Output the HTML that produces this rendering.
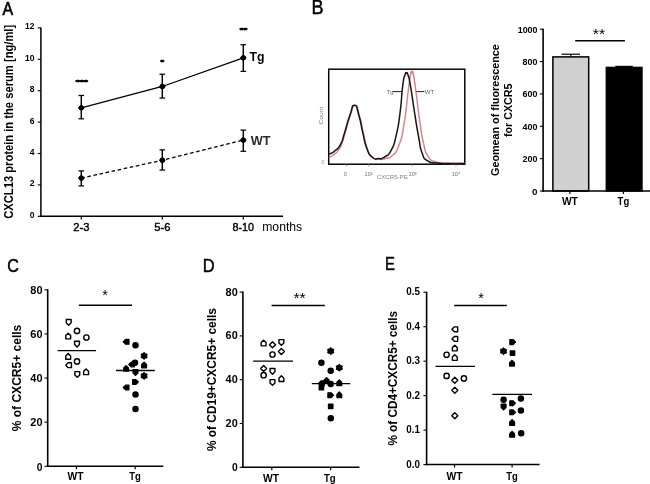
<!DOCTYPE html>
<html><head><meta charset="utf-8"><title>Figure</title>
<style>
html,body{margin:0;padding:0;background:#fff;}
body{width:650px;height:484px;overflow:hidden;}
svg{display:block;font-family:"Liberation Sans",sans-serif;}
</style></head><body>
<svg width="650" height="484" viewBox="0 0 650 484">
<defs><filter id="bl" x="0" y="0" width="650" height="484" filterUnits="userSpaceOnUse"><feGaussianBlur stdDeviation="0.4"/></filter></defs>
<rect width="650" height="484" fill="#fff"/>
<g filter="url(#bl)">
<text transform="translate(2.52 14.70) scale(0.885 1)" font-size="17.97" font-weight="normal" fill="#000" stroke="#000" stroke-width="0.6">A</text>
<text transform="translate(311.55 13.80) scale(0.913 1)" font-size="19.86" font-weight="normal" fill="#000" stroke="#000" stroke-width="0.5">B</text>
<text transform="translate(7.29 271.61) scale(0.845 1)" font-size="19.15" font-weight="normal" fill="#000" stroke="#000" stroke-width="0.5">C</text>
<text transform="translate(202.78 271.50) scale(0.861 1)" font-size="19.13" font-weight="normal" fill="#000" stroke="#000" stroke-width="0.5">D</text>
<text transform="translate(384.91 270.10) scale(0.777 1)" font-size="19.13" font-weight="normal" fill="#000" stroke="#000" stroke-width="0.5">E</text>
<line x1="40.90" y1="27.40" x2="40.90" y2="217.00" stroke="#000" stroke-width="1.5" />
<line x1="40.20" y1="216.30" x2="283.00" y2="216.30" stroke="#000" stroke-width="1.45" />
<line x1="37.70" y1="216.30" x2="40.90" y2="216.30" stroke="#000" stroke-width="1.1" />
<text x="34.40" y="217.70" font-size="8.5" text-anchor="end" font-weight="bold" fill="#000" >0</text>
<line x1="37.70" y1="184.90" x2="40.90" y2="184.90" stroke="#000" stroke-width="1.1" />
<text x="34.40" y="186.30" font-size="8.5" text-anchor="end" font-weight="bold" fill="#000" >2</text>
<line x1="37.70" y1="153.50" x2="40.90" y2="153.50" stroke="#000" stroke-width="1.1" />
<text x="34.40" y="154.90" font-size="8.5" text-anchor="end" font-weight="bold" fill="#000" >4</text>
<line x1="37.70" y1="122.10" x2="40.90" y2="122.10" stroke="#000" stroke-width="1.1" />
<text x="34.40" y="123.50" font-size="8.5" text-anchor="end" font-weight="bold" fill="#000" >6</text>
<line x1="37.70" y1="90.70" x2="40.90" y2="90.70" stroke="#000" stroke-width="1.1" />
<text x="34.40" y="92.10" font-size="8.5" text-anchor="end" font-weight="bold" fill="#000" >8</text>
<line x1="37.70" y1="59.30" x2="40.90" y2="59.30" stroke="#000" stroke-width="1.1" />
<text x="34.40" y="60.70" font-size="8.5" text-anchor="end" font-weight="bold" fill="#000" >10</text>
<line x1="37.70" y1="27.90" x2="40.90" y2="27.90" stroke="#000" stroke-width="1.1" />
<text x="34.40" y="29.30" font-size="8.5" text-anchor="end" font-weight="bold" fill="#000" >12</text>
<line x1="81.30" y1="216.30" x2="81.30" y2="219.50" stroke="#000" stroke-width="1.2" />
<text x="81.30" y="231.30" font-size="11.4" text-anchor="middle" font-weight="normal" fill="#000" textLength="16.2" lengthAdjust="spacingAndGlyphs" stroke="#000" stroke-width="0.4">2-3</text>
<line x1="162.30" y1="216.30" x2="162.30" y2="219.50" stroke="#000" stroke-width="1.2" />
<text x="162.30" y="231.30" font-size="11.4" text-anchor="middle" font-weight="normal" fill="#000" textLength="16.2" lengthAdjust="spacingAndGlyphs" stroke="#000" stroke-width="0.4">5-6</text>
<line x1="243.30" y1="216.30" x2="243.30" y2="219.50" stroke="#000" stroke-width="1.2" />
<text x="243.30" y="231.30" font-size="11.4" text-anchor="middle" font-weight="normal" fill="#000" textLength="21.6" lengthAdjust="spacingAndGlyphs" stroke="#000" stroke-width="0.4">8-10</text>
<text x="262.20" y="231.30" font-size="12.4" text-anchor="start" font-weight="normal" fill="#000" textLength="40.0" lengthAdjust="spacingAndGlyphs" >months</text>
<text x="12.90" y="121.80" font-size="12.3" text-anchor="middle" font-weight="bold" fill="#000" transform="rotate(-90 12.90 121.80)" textLength="194.0" lengthAdjust="spacingAndGlyphs" >CXCL13 protein in the serum [ng/ml]</text>
<polyline points="81.3,107.8 162.3,86.5 243.3,57.8" fill="none" stroke="#000" stroke-width="1.3"/>
<polyline points="81.3,178.1 162.3,160.2 243.3,140.1" fill="none" stroke="#000" stroke-width="1.3" stroke-dasharray="3.6 2.6"/>
<line x1="81.30" y1="95.50" x2="81.30" y2="118.80" stroke="#000" stroke-width="1.45" />
<line x1="78.50" y1="95.50" x2="84.10" y2="95.50" stroke="#000" stroke-width="1.25" />
<line x1="78.50" y1="118.80" x2="84.10" y2="118.80" stroke="#000" stroke-width="1.25" />
<polygon points="81.30,104.80 84.30,107.80 81.30,110.80 78.30,107.80" fill="#000" stroke="#000" stroke-width="0.6" stroke-linejoin="round"/>
<circle cx="81.3" cy="107.8" r="2.65" fill="#000"/>
<line x1="162.30" y1="74.20" x2="162.30" y2="98.00" stroke="#000" stroke-width="1.45" />
<line x1="159.50" y1="74.20" x2="165.10" y2="74.20" stroke="#000" stroke-width="1.25" />
<line x1="159.50" y1="98.00" x2="165.10" y2="98.00" stroke="#000" stroke-width="1.25" />
<polygon points="162.30,83.50 165.30,86.50 162.30,89.50 159.30,86.50" fill="#000" stroke="#000" stroke-width="0.6" stroke-linejoin="round"/>
<circle cx="162.3" cy="86.5" r="2.65" fill="#000"/>
<line x1="243.30" y1="44.70" x2="243.30" y2="71.40" stroke="#000" stroke-width="1.45" />
<line x1="240.50" y1="44.70" x2="246.10" y2="44.70" stroke="#000" stroke-width="1.25" />
<line x1="240.50" y1="71.40" x2="246.10" y2="71.40" stroke="#000" stroke-width="1.25" />
<polygon points="243.30,54.80 246.30,57.80 243.30,60.80 240.30,57.80" fill="#000" stroke="#000" stroke-width="0.6" stroke-linejoin="round"/>
<circle cx="243.3" cy="57.8" r="2.65" fill="#000"/>
<line x1="81.30" y1="170.90" x2="81.30" y2="185.90" stroke="#000" stroke-width="1.45" />
<line x1="78.50" y1="170.90" x2="84.10" y2="170.90" stroke="#000" stroke-width="1.25" />
<line x1="78.50" y1="185.90" x2="84.10" y2="185.90" stroke="#000" stroke-width="1.25" />
<polygon points="81.30,175.10 84.30,178.10 81.30,181.10 78.30,178.10" fill="#000" stroke="#000" stroke-width="0.6" stroke-linejoin="round"/>
<circle cx="81.3" cy="178.1" r="2.65" fill="#000"/>
<line x1="162.30" y1="149.90" x2="162.30" y2="170.00" stroke="#000" stroke-width="1.45" />
<line x1="159.50" y1="149.90" x2="165.10" y2="149.90" stroke="#000" stroke-width="1.25" />
<line x1="159.50" y1="170.00" x2="165.10" y2="170.00" stroke="#000" stroke-width="1.25" />
<polygon points="162.30,157.20 165.30,160.20 162.30,163.20 159.30,160.20" fill="#000" stroke="#000" stroke-width="0.6" stroke-linejoin="round"/>
<circle cx="162.3" cy="160.2" r="2.65" fill="#000"/>
<line x1="243.30" y1="130.10" x2="243.30" y2="151.30" stroke="#000" stroke-width="1.45" />
<line x1="240.50" y1="130.10" x2="246.10" y2="130.10" stroke="#000" stroke-width="1.25" />
<line x1="240.50" y1="151.30" x2="246.10" y2="151.30" stroke="#000" stroke-width="1.25" />
<polygon points="243.30,137.10 246.30,140.10 243.30,143.10 240.30,140.10" fill="#000" stroke="#000" stroke-width="0.6" stroke-linejoin="round"/>
<circle cx="243.3" cy="140.1" r="2.65" fill="#000"/>
<text x="249.40" y="61.30" font-size="12.4" text-anchor="start" font-weight="bold" fill="#000" textLength="15.0" lengthAdjust="spacingAndGlyphs" >Tg</text>
<text x="250.80" y="145.20" font-size="12.4" text-anchor="start" font-weight="bold" fill="#2e2a2e" textLength="19.8" lengthAdjust="spacingAndGlyphs" >WT</text>
<text x="81.80" y="84.10" font-size="6" text-anchor="middle" font-weight="bold" fill="#000" textLength="12.2" lengthAdjust="spacingAndGlyphs" stroke="#000" stroke-width="0.6">***</text>
<text x="162.30" y="64.00" font-size="6" text-anchor="middle" font-weight="bold" fill="#000" textLength="3.6" lengthAdjust="spacingAndGlyphs" stroke="#000" stroke-width="0.6">*</text>
<text x="243.50" y="32.00" font-size="6" text-anchor="middle" font-weight="bold" fill="#000" textLength="7.4" lengthAdjust="spacingAndGlyphs" stroke="#000" stroke-width="0.6">**</text>
<rect x="328.7" y="69.2" width="136.1" height="95.0" fill="#fff" stroke="#000" stroke-width="1.45"/>
<path d="M329.60,157.20 C331.07,156.30 331.13,156.80 334.00,154.50 C336.87,152.20 335.53,154.13 338.20,150.30 C340.87,146.47 339.57,149.27 342.00,143.00 C344.43,136.73 342.73,140.67 345.50,131.50 C348.27,122.33 347.13,124.20 350.30,115.50 C353.47,106.80 351.97,105.40 355.00,105.40 C358.03,105.40 356.67,106.53 359.40,115.50 C362.13,124.47 360.63,121.57 363.20,132.30 C365.77,143.03 364.07,139.40 367.10,147.70 C370.13,156.00 368.17,153.33 372.30,157.20 C376.43,161.07 374.93,158.93 379.50,159.30 C384.07,159.67 381.70,159.57 386.00,158.30 C390.30,157.03 388.10,159.87 392.40,155.50 C396.70,151.13 395.03,155.53 398.90,145.20 C402.77,134.87 401.00,141.73 404.00,124.50 C407.00,107.27 405.73,110.00 407.90,93.50 C410.07,77.00 409.13,81.87 410.50,75.00 C411.87,68.13 411.00,72.90 412.00,72.90 C413.00,72.90 412.10,68.13 413.50,75.00 C414.90,81.87 414.20,78.70 416.20,93.50 C418.20,108.30 417.10,103.03 419.50,119.40 C421.90,135.77 420.40,130.13 423.40,142.60 C426.40,155.07 424.20,150.37 428.50,156.80 C432.80,163.23 429.80,159.73 436.30,161.90 C442.80,164.07 438.60,162.80 448.00,163.30 C457.40,163.80 459.00,163.37 464.50,163.40" fill="none" stroke="#dc7f86" stroke-width="1.45" stroke-linejoin="round" stroke-linecap="round"/>
<path d="M329.50,153.80 C330.00,153.63 328.97,154.47 331.00,153.30 C333.03,152.13 332.33,153.43 335.60,150.30 C338.87,147.17 337.77,149.90 340.80,143.90 C343.83,137.90 341.70,141.77 344.70,132.30 C347.70,122.83 346.53,124.53 349.80,115.50 C353.07,106.47 351.47,105.20 354.50,105.20 C357.53,105.20 356.17,106.47 358.90,115.50 C361.63,124.53 360.13,121.57 362.70,132.30 C365.27,143.03 363.57,139.53 366.60,147.70 C369.63,155.87 367.93,153.17 371.80,156.80 C375.67,160.43 373.90,158.60 378.20,158.60 C382.50,158.60 380.40,159.57 384.70,156.80 C389.00,154.03 387.23,157.63 391.10,150.30 C394.97,142.97 393.27,147.70 396.30,134.80 C399.33,121.90 398.07,127.93 400.20,111.60 C402.33,95.27 401.10,98.00 402.70,85.80 C404.30,73.60 403.73,79.13 405.00,75.00 C406.27,70.87 405.50,73.40 406.50,73.40 C407.50,73.40 406.67,70.87 408.00,75.00 C409.33,79.13 408.37,73.60 410.50,85.80 C412.63,98.00 411.67,94.40 414.40,111.60 C417.13,128.80 416.13,123.63 418.70,137.40 C421.27,151.17 419.23,145.17 422.10,152.90 C424.97,160.63 422.57,157.23 427.30,160.60 C432.03,163.97 428.73,162.07 436.30,163.00 C443.87,163.93 440.60,163.27 450.00,163.40 C459.40,163.53 459.67,163.40 464.50,163.40" fill="none" stroke="#151515" stroke-width="1.5" stroke-linejoin="round" stroke-linecap="round"/>
<text x="386.70" y="93.70" font-size="5.8" text-anchor="start" font-weight="normal" fill="#666" >Tg</text>
<line x1="392.80" y1="91.60" x2="402.50" y2="91.60" stroke="#222" stroke-width="1.0" />
<line x1="416.30" y1="91.60" x2="424.30" y2="91.60" stroke="#222" stroke-width="1.0" />
<text x="424.80" y="93.70" font-size="5.8" text-anchor="start" font-weight="normal" fill="#666" textLength="9.4" lengthAdjust="spacingAndGlyphs" >WT</text>
<text x="322.70" y="115.50" font-size="6" text-anchor="middle" font-weight="normal" fill="#808080" transform="rotate(-90 322.70 115.50)" textLength="18.0" lengthAdjust="spacingAndGlyphs" >Count</text>
<text x="392.30" y="179.30" font-size="6" text-anchor="middle" font-weight="normal" fill="#858585" textLength="31.0" lengthAdjust="spacingAndGlyphs" >CXCR5-PE</text>
<text x="345.20" y="176.20" font-size="5.6" text-anchor="middle" font-weight="normal" fill="#707070" >0</text>
<line x1="346.50" y1="164.20" x2="346.50" y2="166.40" stroke="#777" stroke-width="0.8" />
<text x="368.60" y="176.20" font-size="5.6" text-anchor="middle" font-weight="normal" fill="#707070" >10²</text>
<line x1="368.60" y1="164.20" x2="368.60" y2="166.40" stroke="#777" stroke-width="0.8" />
<text x="412.60" y="176.20" font-size="5.6" text-anchor="middle" font-weight="normal" fill="#707070" >10³</text>
<line x1="412.60" y1="164.20" x2="412.60" y2="166.40" stroke="#777" stroke-width="0.8" />
<text x="456.00" y="176.20" font-size="5.6" text-anchor="middle" font-weight="normal" fill="#707070" >10⁴</text>
<line x1="456.00" y1="164.20" x2="456.00" y2="166.40" stroke="#777" stroke-width="0.8" />
<text x="322.70" y="164.30" font-size="4.5" text-anchor="middle" font-weight="normal" fill="#808080" >0</text>
<rect x="552.9" y="56.9" width="35.8" height="134.1" fill="#d0d0d0" stroke="#000" stroke-width="1.5"/>
<rect x="606.3" y="67.4" width="35.7" height="123.6" fill="#000" stroke="#000" stroke-width="1.4"/>
<line x1="570.80" y1="56.90" x2="570.80" y2="54.20" stroke="#000" stroke-width="1.2" />
<line x1="561.60" y1="54.20" x2="580.00" y2="54.20" stroke="#000" stroke-width="1.2" />
<line x1="615.30" y1="66.40" x2="632.80" y2="66.40" stroke="#000" stroke-width="1.2" />
<line x1="543.10" y1="28.70" x2="543.10" y2="191.70" stroke="#000" stroke-width="1.6" />
<line x1="542.30" y1="191.00" x2="650.00" y2="191.00" stroke="#000" stroke-width="1.5" />
<line x1="539.90" y1="191.00" x2="543.10" y2="191.00" stroke="#000" stroke-width="1.1" />
<text x="537.50" y="194.50" font-size="9.8" text-anchor="end" font-weight="bold" fill="#000" >0</text>
<line x1="539.90" y1="158.64" x2="543.10" y2="158.64" stroke="#000" stroke-width="1.1" />
<text x="537.50" y="162.14" font-size="9.8" text-anchor="end" font-weight="bold" fill="#000" textLength="14.9" lengthAdjust="spacingAndGlyphs" >200</text>
<line x1="539.90" y1="126.28" x2="543.10" y2="126.28" stroke="#000" stroke-width="1.1" />
<text x="537.50" y="129.78" font-size="9.8" text-anchor="end" font-weight="bold" fill="#000" textLength="14.9" lengthAdjust="spacingAndGlyphs" >400</text>
<line x1="539.90" y1="93.92" x2="543.10" y2="93.92" stroke="#000" stroke-width="1.1" />
<text x="537.50" y="97.42" font-size="9.8" text-anchor="end" font-weight="bold" fill="#000" textLength="14.9" lengthAdjust="spacingAndGlyphs" >600</text>
<line x1="539.90" y1="61.56" x2="543.10" y2="61.56" stroke="#000" stroke-width="1.1" />
<text x="537.50" y="65.06" font-size="9.8" text-anchor="end" font-weight="bold" fill="#000" textLength="14.9" lengthAdjust="spacingAndGlyphs" >800</text>
<line x1="539.90" y1="29.20" x2="543.10" y2="29.20" stroke="#000" stroke-width="1.1" />
<text x="537.50" y="32.70" font-size="9.8" text-anchor="end" font-weight="bold" fill="#000" textLength="19.8" lengthAdjust="spacingAndGlyphs" >1000</text>
<line x1="569.90" y1="191.00" x2="569.90" y2="194.00" stroke="#000" stroke-width="1.2" />
<text x="569.90" y="205.10" font-size="11" text-anchor="middle" font-weight="bold" fill="#000" textLength="16.0" lengthAdjust="spacingAndGlyphs" >WT</text>
<line x1="623.40" y1="191.00" x2="623.40" y2="194.00" stroke="#000" stroke-width="1.2" />
<text x="623.40" y="205.10" font-size="11" text-anchor="middle" font-weight="bold" fill="#000" textLength="11.6" lengthAdjust="spacingAndGlyphs" >Tg</text>
<line x1="575.20" y1="40.80" x2="624.90" y2="40.80" stroke="#000" stroke-width="1.5" />
<text x="599.00" y="38.60" font-size="14.5" text-anchor="middle" font-weight="normal" fill="#000" textLength="12.4" lengthAdjust="spacingAndGlyphs" >**</text>
<text x="498.90" y="110.10" font-size="10.8" text-anchor="middle" font-weight="bold" fill="#000" transform="rotate(-90 498.90 110.10)" textLength="131.8" lengthAdjust="spacingAndGlyphs" >Geomean of fluorescence</text>
<text x="511.80" y="110.30" font-size="10.8" text-anchor="middle" font-weight="bold" fill="#000" transform="rotate(-90 511.80 110.30)" textLength="53.5" lengthAdjust="spacingAndGlyphs" >for CXCR5</text>
<line x1="47.70" y1="289.30" x2="47.70" y2="467.00" stroke="#000" stroke-width="1.6" />
<line x1="46.90" y1="466.30" x2="163.30" y2="466.30" stroke="#000" stroke-width="1.5" />
<line x1="44.50" y1="466.30" x2="47.70" y2="466.30" stroke="#000" stroke-width="1.1" />
<text x="42.50" y="470.60" font-size="10.3" text-anchor="end" font-weight="bold" fill="#000" >0</text>
<line x1="44.50" y1="422.18" x2="47.70" y2="422.18" stroke="#000" stroke-width="1.1" />
<text x="42.50" y="426.48" font-size="10.3" text-anchor="end" font-weight="bold" fill="#000" textLength="12.2" lengthAdjust="spacingAndGlyphs" >20</text>
<line x1="44.50" y1="378.05" x2="47.70" y2="378.05" stroke="#000" stroke-width="1.1" />
<text x="42.50" y="382.35" font-size="10.3" text-anchor="end" font-weight="bold" fill="#000" textLength="12.2" lengthAdjust="spacingAndGlyphs" >40</text>
<line x1="44.50" y1="333.93" x2="47.70" y2="333.93" stroke="#000" stroke-width="1.1" />
<text x="42.50" y="338.23" font-size="10.3" text-anchor="end" font-weight="bold" fill="#000" textLength="12.2" lengthAdjust="spacingAndGlyphs" >60</text>
<line x1="44.50" y1="289.80" x2="47.70" y2="289.80" stroke="#000" stroke-width="1.1" />
<text x="42.50" y="294.10" font-size="10.3" text-anchor="end" font-weight="bold" fill="#000" textLength="12.2" lengthAdjust="spacingAndGlyphs" >80</text>
<line x1="76.40" y1="466.30" x2="76.40" y2="469.30" stroke="#000" stroke-width="1.2" />
<text x="75.60" y="480.20" font-size="11" text-anchor="middle" font-weight="bold" fill="#000" textLength="16.0" lengthAdjust="spacingAndGlyphs" >WT</text>
<line x1="135.20" y1="466.30" x2="135.20" y2="469.30" stroke="#000" stroke-width="1.2" />
<text x="135.00" y="480.20" font-size="11" text-anchor="middle" font-weight="bold" fill="#000" textLength="11.6" lengthAdjust="spacingAndGlyphs" >Tg</text>
<text x="20.50" y="378.00" font-size="12.3" text-anchor="middle" font-weight="bold" fill="#000" transform="rotate(-90 20.50 378.00)" textLength="106.6" lengthAdjust="spacingAndGlyphs" >% of CXCR5+ cells</text>
<line x1="78.90" y1="305.30" x2="132.00" y2="305.30" stroke="#000" stroke-width="1.5" />
<text x="105.00" y="300.30" font-size="14.5" text-anchor="middle" font-weight="normal" fill="#000" >*</text>
<polygon points="71.14,319.54 71.14,322.83 68.70,325.26 66.26,322.83 66.26,319.54" fill="#fff" stroke="#000" stroke-width="1.4" stroke-linejoin="round"/>
<circle cx="77.00" cy="330.90" r="2.65" fill="#fff" stroke="#000" stroke-width="1.4"/>
<polygon points="65.76,338.86 65.76,335.57 68.20,333.14 70.64,335.57 70.64,338.86" fill="#fff" stroke="#000" stroke-width="1.4" stroke-linejoin="round"/>
<circle cx="86.40" cy="337.50" r="2.65" fill="#fff" stroke="#000" stroke-width="1.4"/>
<polygon points="79.44,341.24 79.44,344.53 77.00,346.96 74.56,344.53 74.56,341.24" fill="#fff" stroke="#000" stroke-width="1.4" stroke-linejoin="round"/>
<polygon points="65.76,359.26 65.76,355.97 68.20,353.54 70.64,355.97 70.64,359.26" fill="#fff" stroke="#000" stroke-width="1.4" stroke-linejoin="round"/>
<circle cx="77.00" cy="361.40" r="2.65" fill="#fff" stroke="#000" stroke-width="1.4"/>
<polygon points="71.46,367.64 68.17,367.64 65.74,365.20 68.17,362.76 71.46,362.76" fill="#fff" stroke="#000" stroke-width="1.4" stroke-linejoin="round"/>
<polygon points="83.66,374.66 83.66,371.37 86.10,368.94 88.54,371.37 88.54,374.66" fill="#fff" stroke="#000" stroke-width="1.4" stroke-linejoin="round"/>
<polygon points="79.74,371.64 79.74,374.93 77.30,377.36 74.86,374.93 74.86,371.64" fill="#fff" stroke="#000" stroke-width="1.4" stroke-linejoin="round"/>
<polygon points="128.85,344.15 125.69,344.15 123.35,341.80 125.69,339.45 128.85,339.45" fill="#000" stroke="#000" stroke-width="1.4" stroke-linejoin="round"/>
<circle cx="135.50" cy="345.20" r="2.55" fill="#000" stroke="#000" stroke-width="1.4"/>
<polygon points="144.10,352.35 145.42,353.61 147.17,354.12 146.75,355.90 147.17,357.67 145.42,358.19 144.10,359.45 142.78,358.19 141.03,357.67 141.45,355.90 141.03,354.12 142.78,353.61" fill="#000" stroke="#000" stroke-width="0.98" stroke-linejoin="round"/>
<circle cx="135.00" cy="362.70" r="2.55" fill="#000" stroke="#000" stroke-width="1.4"/>
<polygon points="134.35,366.85 131.19,366.85 128.85,364.50 131.19,362.15 134.35,362.15" fill="#000" stroke="#000" stroke-width="1.4" stroke-linejoin="round"/>
<polygon points="141.75,367.75 141.75,364.59 144.10,362.25 146.45,364.59 146.45,367.75" fill="#000" stroke="#000" stroke-width="1.4" stroke-linejoin="round"/>
<polygon points="123.75,371.15 123.75,367.99 126.10,365.65 128.45,367.99 128.45,371.15" fill="#000" stroke="#000" stroke-width="1.4" stroke-linejoin="round"/>
<polygon points="137.85,369.75 137.85,372.91 135.50,375.25 133.15,372.91 133.15,369.75" fill="#000" stroke="#000" stroke-width="1.4" stroke-linejoin="round"/>
<polygon points="144.10,372.35 145.42,373.61 147.17,374.12 146.75,375.90 147.17,377.67 145.42,378.19 144.10,379.45 142.78,378.19 141.03,377.67 141.45,375.90 141.03,374.12 142.78,373.61" fill="#000" stroke="#000" stroke-width="0.98" stroke-linejoin="round"/>
<polygon points="132.75,379.65 135.91,379.65 138.25,382.00 135.91,384.35 132.75,384.35" fill="#000" stroke="#000" stroke-width="1.4" stroke-linejoin="round"/>
<polygon points="128.85,389.85 125.69,389.85 123.35,387.50 125.69,385.15 128.85,385.15" fill="#000" stroke="#000" stroke-width="1.4" stroke-linejoin="round"/>
<circle cx="135.50" cy="394.50" r="2.55" fill="#000" stroke="#000" stroke-width="1.4"/>
<circle cx="135.50" cy="409.10" r="2.55" fill="#000" stroke="#000" stroke-width="1.4"/>
<line x1="57.70" y1="350.70" x2="96.10" y2="350.70" stroke="#000" stroke-width="1.3" />
<line x1="116.10" y1="370.50" x2="154.80" y2="370.50" stroke="#000" stroke-width="1.3" />
<line x1="242.90" y1="291.60" x2="242.90" y2="468.00" stroke="#000" stroke-width="1.6" />
<line x1="242.10" y1="467.30" x2="359.50" y2="467.30" stroke="#000" stroke-width="1.5" />
<line x1="239.70" y1="467.30" x2="242.90" y2="467.30" stroke="#000" stroke-width="1.1" />
<text x="237.70" y="470.80" font-size="10.3" text-anchor="end" font-weight="bold" fill="#000" >0</text>
<line x1="239.70" y1="423.50" x2="242.90" y2="423.50" stroke="#000" stroke-width="1.1" />
<text x="237.70" y="427.00" font-size="10.3" text-anchor="end" font-weight="bold" fill="#000" textLength="12.1" lengthAdjust="spacingAndGlyphs" >20</text>
<line x1="239.70" y1="379.70" x2="242.90" y2="379.70" stroke="#000" stroke-width="1.1" />
<text x="237.70" y="383.20" font-size="10.3" text-anchor="end" font-weight="bold" fill="#000" textLength="12.1" lengthAdjust="spacingAndGlyphs" >40</text>
<line x1="239.70" y1="335.90" x2="242.90" y2="335.90" stroke="#000" stroke-width="1.1" />
<text x="237.70" y="339.40" font-size="10.3" text-anchor="end" font-weight="bold" fill="#000" textLength="12.1" lengthAdjust="spacingAndGlyphs" >60</text>
<line x1="239.70" y1="292.10" x2="242.90" y2="292.10" stroke="#000" stroke-width="1.1" />
<text x="237.70" y="295.60" font-size="10.3" text-anchor="end" font-weight="bold" fill="#000" textLength="12.1" lengthAdjust="spacingAndGlyphs" >80</text>
<line x1="271.80" y1="467.30" x2="271.80" y2="470.30" stroke="#000" stroke-width="1.2" />
<text x="271.10" y="481.90" font-size="11" text-anchor="middle" font-weight="bold" fill="#000" textLength="16.0" lengthAdjust="spacingAndGlyphs" >WT</text>
<line x1="330.60" y1="467.30" x2="330.60" y2="470.30" stroke="#000" stroke-width="1.2" />
<text x="329.80" y="481.90" font-size="11" text-anchor="middle" font-weight="bold" fill="#000" textLength="11.6" lengthAdjust="spacingAndGlyphs" >Tg</text>
<text x="216.10" y="379.60" font-size="12.3" text-anchor="middle" font-weight="bold" fill="#000" transform="rotate(-90 216.10 379.60)" textLength="143.0" lengthAdjust="spacingAndGlyphs" >% of CD19+CXCR5+ cells</text>
<line x1="271.60" y1="305.50" x2="324.80" y2="305.50" stroke="#000" stroke-width="1.5" />
<text x="299.60" y="302.50" font-size="14.5" text-anchor="middle" font-weight="normal" fill="#000" textLength="12.4" lengthAdjust="spacingAndGlyphs" >**</text>
<polygon points="261.16,345.86 261.16,342.57 263.60,340.14 266.04,342.57 266.04,345.86" fill="#fff" stroke="#000" stroke-width="1.4" stroke-linejoin="round"/>
<polygon points="283.84,339.64 283.84,342.93 281.40,345.36 278.96,342.93 278.96,339.64" fill="#fff" stroke="#000" stroke-width="1.4" stroke-linejoin="round"/>
<polygon points="272.50,341.80 275.50,344.80 272.50,347.80 269.50,344.80" fill="#fff" stroke="#000" stroke-width="1.4" stroke-linejoin="round"/>
<polygon points="281.40,348.40 284.40,351.40 281.40,354.40 278.40,351.40" fill="#fff" stroke="#000" stroke-width="1.4" stroke-linejoin="round"/>
<circle cx="272.50" cy="354.50" r="2.65" fill="#fff" stroke="#000" stroke-width="1.4"/>
<polygon points="263.60,365.40 266.60,368.40 263.60,371.40 260.60,368.40" fill="#fff" stroke="#000" stroke-width="1.4" stroke-linejoin="round"/>
<polygon points="274.94,368.54 274.94,371.83 272.50,374.26 270.06,371.83 270.06,368.54" fill="#fff" stroke="#000" stroke-width="1.4" stroke-linejoin="round"/>
<circle cx="263.60" cy="375.20" r="2.65" fill="#fff" stroke="#000" stroke-width="1.4"/>
<polygon points="278.96,381.46 278.96,378.17 281.40,375.74 283.84,378.17 283.84,381.46" fill="#fff" stroke="#000" stroke-width="1.4" stroke-linejoin="round"/>
<polygon points="274.94,379.64 274.94,382.93 272.50,385.36 270.06,382.93 270.06,379.64" fill="#fff" stroke="#000" stroke-width="1.4" stroke-linejoin="round"/>
<polygon points="330.70,347.55 332.02,348.81 333.77,349.33 333.35,351.10 333.77,352.88 332.02,353.39 330.70,354.65 329.38,353.39 327.63,352.88 328.05,351.10 327.63,349.33 329.38,348.81" fill="#000" stroke="#000" stroke-width="0.98" stroke-linejoin="round"/>
<circle cx="321.40" cy="362.70" r="2.55" fill="#000" stroke="#000" stroke-width="1.4"/>
<polygon points="339.30,364.15 340.62,365.41 342.37,365.93 341.95,367.70 342.37,369.47 340.62,369.99 339.30,371.25 337.98,369.99 336.23,369.47 336.65,367.70 336.23,365.93 337.98,365.41" fill="#000" stroke="#000" stroke-width="0.98" stroke-linejoin="round"/>
<circle cx="330.70" cy="370.70" r="2.55" fill="#000" stroke="#000" stroke-width="1.4"/>
<polygon points="324.25,383.25 324.25,380.09 326.60,377.75 328.95,380.09 328.95,383.25" fill="#000" stroke="#000" stroke-width="1.4" stroke-linejoin="round"/>
<polygon points="336.95,385.45 336.95,382.29 339.30,379.95 341.65,382.29 341.65,385.45" fill="#000" stroke="#000" stroke-width="1.4" stroke-linejoin="round"/>
<polygon points="324.15,385.75 320.99,385.75 318.65,383.40 320.99,381.05 324.15,381.05" fill="#000" stroke="#000" stroke-width="1.4" stroke-linejoin="round"/>
<circle cx="330.70" cy="383.90" r="2.55" fill="#000" stroke="#000" stroke-width="1.4"/>
<polygon points="323.56,385.54 323.56,389.86 319.24,389.86 319.24,385.54" fill="#000" stroke="#000" stroke-width="1.4" stroke-linejoin="round"/>
<polygon points="327.95,392.85 331.11,392.85 333.45,395.20 331.11,397.55 327.95,397.55" fill="#000" stroke="#000" stroke-width="1.4" stroke-linejoin="round"/>
<polygon points="336.95,397.55 336.95,394.39 339.30,392.05 341.65,394.39 341.65,397.55" fill="#000" stroke="#000" stroke-width="1.4" stroke-linejoin="round"/>
<polygon points="332.86,404.24 332.86,408.56 328.54,408.56 328.54,404.24" fill="#000" stroke="#000" stroke-width="1.4" stroke-linejoin="round"/>
<circle cx="330.80" cy="418.30" r="2.55" fill="#000" stroke="#000" stroke-width="1.4"/>
<line x1="253.20" y1="361.10" x2="293.00" y2="361.10" stroke="#000" stroke-width="1.3" />
<line x1="311.80" y1="383.60" x2="350.20" y2="383.60" stroke="#000" stroke-width="1.3" />
<line x1="426.60" y1="291.70" x2="426.60" y2="465.30" stroke="#000" stroke-width="1.6" />
<line x1="425.80" y1="464.60" x2="539.60" y2="464.60" stroke="#000" stroke-width="1.5" />
<line x1="423.40" y1="464.60" x2="426.60" y2="464.60" stroke="#000" stroke-width="1.1" />
<text x="420.00" y="467.80" font-size="10.3" text-anchor="end" font-weight="bold" fill="#000" textLength="13.7" lengthAdjust="spacingAndGlyphs" >0.0</text>
<line x1="423.40" y1="430.12" x2="426.60" y2="430.12" stroke="#000" stroke-width="1.1" />
<text x="420.00" y="433.32" font-size="10.3" text-anchor="end" font-weight="bold" fill="#000" textLength="13.7" lengthAdjust="spacingAndGlyphs" >0.1</text>
<line x1="423.40" y1="395.64" x2="426.60" y2="395.64" stroke="#000" stroke-width="1.1" />
<text x="420.00" y="398.84" font-size="10.3" text-anchor="end" font-weight="bold" fill="#000" textLength="13.7" lengthAdjust="spacingAndGlyphs" >0.2</text>
<line x1="423.40" y1="361.16" x2="426.60" y2="361.16" stroke="#000" stroke-width="1.1" />
<text x="420.00" y="364.36" font-size="10.3" text-anchor="end" font-weight="bold" fill="#000" textLength="13.7" lengthAdjust="spacingAndGlyphs" >0.3</text>
<line x1="423.40" y1="326.68" x2="426.60" y2="326.68" stroke="#000" stroke-width="1.1" />
<text x="420.00" y="329.88" font-size="10.3" text-anchor="end" font-weight="bold" fill="#000" textLength="13.7" lengthAdjust="spacingAndGlyphs" >0.4</text>
<line x1="423.40" y1="292.20" x2="426.60" y2="292.20" stroke="#000" stroke-width="1.1" />
<text x="420.00" y="295.40" font-size="10.3" text-anchor="end" font-weight="bold" fill="#000" textLength="13.7" lengthAdjust="spacingAndGlyphs" >0.5</text>
<line x1="454.50" y1="464.60" x2="454.50" y2="467.60" stroke="#000" stroke-width="1.2" />
<text x="454.60" y="479.60" font-size="11" text-anchor="middle" font-weight="bold" fill="#000" textLength="16.0" lengthAdjust="spacingAndGlyphs" >WT</text>
<line x1="512.10" y1="464.60" x2="512.10" y2="467.60" stroke="#000" stroke-width="1.2" />
<text x="512.00" y="479.60" font-size="11" text-anchor="middle" font-weight="bold" fill="#000" textLength="11.6" lengthAdjust="spacingAndGlyphs" >Tg</text>
<text x="397.40" y="378.30" font-size="12.3" text-anchor="middle" font-weight="bold" fill="#000" transform="rotate(-90 397.40 378.30)" textLength="134.6" lengthAdjust="spacingAndGlyphs" >% of CD4+CXCR5+ cells</text>
<line x1="454.20" y1="305.50" x2="506.80" y2="305.50" stroke="#000" stroke-width="1.5" />
<text x="481.00" y="302.90" font-size="14.5" text-anchor="middle" font-weight="normal" fill="#000" >*</text>
<polygon points="457.66,331.74 454.37,331.74 451.94,329.30 454.37,326.86 457.66,326.86" fill="#fff" stroke="#000" stroke-width="1.4" stroke-linejoin="round"/>
<polygon points="457.66,341.34 454.37,341.34 451.94,338.90 454.37,336.46 457.66,336.46" fill="#fff" stroke="#000" stroke-width="1.4" stroke-linejoin="round"/>
<polygon points="452.36,350.86 452.36,347.57 454.80,345.14 457.24,347.57 457.24,350.86" fill="#fff" stroke="#000" stroke-width="1.4" stroke-linejoin="round"/>
<circle cx="446.60" cy="354.80" r="2.65" fill="#fff" stroke="#000" stroke-width="1.4"/>
<polygon points="452.36,360.36 452.36,357.07 454.80,354.64 457.24,357.07 457.24,360.36" fill="#fff" stroke="#000" stroke-width="1.4" stroke-linejoin="round"/>
<circle cx="446.60" cy="375.90" r="2.65" fill="#fff" stroke="#000" stroke-width="1.4"/>
<circle cx="463.90" cy="378.40" r="2.65" fill="#fff" stroke="#000" stroke-width="1.4"/>
<polygon points="454.80,377.20 457.80,380.20 454.80,383.20 451.80,380.20" fill="#fff" stroke="#000" stroke-width="1.4" stroke-linejoin="round"/>
<polygon points="454.80,387.20 457.80,390.20 454.80,393.20 451.80,390.20" fill="#fff" stroke="#000" stroke-width="1.4" stroke-linejoin="round"/>
<polygon points="454.80,412.70 457.80,415.70 454.80,418.70 451.80,415.70" fill="#fff" stroke="#000" stroke-width="1.4" stroke-linejoin="round"/>
<polygon points="509.95,339.75 513.11,339.75 515.45,342.10 513.11,344.45 509.95,344.45" fill="#000" stroke="#000" stroke-width="1.4" stroke-linejoin="round"/>
<polygon points="503.50,347.65 504.82,348.91 506.57,349.43 506.15,351.20 506.57,352.97 504.82,353.49 503.50,354.75 502.18,353.49 500.43,352.97 500.85,351.20 500.43,349.43 502.18,348.91" fill="#000" stroke="#000" stroke-width="0.98" stroke-linejoin="round"/>
<polygon points="514.66,351.04 514.66,355.36 510.34,355.36 510.34,351.04" fill="#000" stroke="#000" stroke-width="1.4" stroke-linejoin="round"/>
<polygon points="509.65,365.95 509.65,362.79 512.00,360.45 514.35,362.79 514.35,365.95" fill="#000" stroke="#000" stroke-width="1.4" stroke-linejoin="round"/>
<circle cx="503.60" cy="399.80" r="2.55" fill="#000" stroke="#000" stroke-width="1.4"/>
<circle cx="520.90" cy="398.60" r="2.55" fill="#000" stroke="#000" stroke-width="1.4"/>
<polygon points="509.85,400.85 513.01,400.85 515.35,403.20 513.01,405.55 509.85,405.55" fill="#000" stroke="#000" stroke-width="1.4" stroke-linejoin="round"/>
<polygon points="505.95,404.25 505.95,407.41 503.60,409.75 501.25,407.41 501.25,404.25" fill="#000" stroke="#000" stroke-width="1.4" stroke-linejoin="round"/>
<circle cx="520.90" cy="410.50" r="2.55" fill="#000" stroke="#000" stroke-width="1.4"/>
<polygon points="509.85,409.95 513.01,409.95 515.35,412.30 513.01,414.65 509.85,414.65" fill="#000" stroke="#000" stroke-width="1.4" stroke-linejoin="round"/>
<polygon points="509.75,425.25 509.75,422.09 512.10,419.75 514.45,422.09 514.45,425.25" fill="#000" stroke="#000" stroke-width="1.4" stroke-linejoin="round"/>
<polygon points="509.75,436.95 509.75,433.79 512.10,431.45 514.45,433.79 514.45,436.95" fill="#000" stroke="#000" stroke-width="1.4" stroke-linejoin="round"/>
<circle cx="521.20" cy="433.30" r="2.55" fill="#000" stroke="#000" stroke-width="1.4"/>
<line x1="435.50" y1="366.40" x2="475.00" y2="366.40" stroke="#000" stroke-width="1.3" />
<line x1="492.30" y1="394.30" x2="532.00" y2="394.30" stroke="#000" stroke-width="1.3" />
</g>
</svg>
</body></html>
